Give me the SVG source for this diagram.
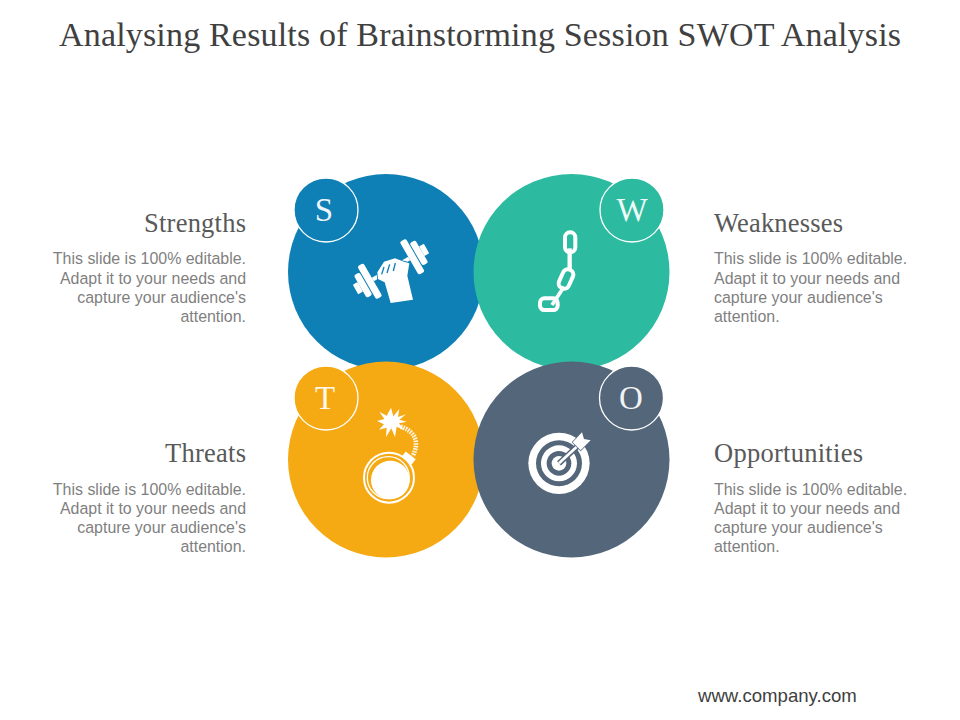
<svg xmlns="http://www.w3.org/2000/svg" width="960" height="720" viewBox="0 0 960 720">
<style>
.title{font-family:"Liberation Serif",serif;font-size:34px;fill:#404040}
.head{font-family:"Liberation Serif",serif;font-size:26.500px;fill:#595959}
.body{font-family:"Liberation Sans",Arial,sans-serif;font-size:15.950px;fill:#7f7f7f}
.r{text-anchor:end}
.letter{font-family:"Liberation Serif",serif;font-size:33px;fill:#fff;text-anchor:middle;opacity:.92}
.badge{stroke:#fff;stroke-width:1.3}
.url{font-family:"Liberation Sans",Arial,sans-serif;font-size:18.600px;fill:#404040}
</style>
<rect width="960" height="720" fill="#fff"/>
<text class="title" x="59" y="46" textLength="842" lengthAdjust="spacing">Analysing Results of Brainstorming Session SWOT Analysis</text>
<g id="strengths">
<circle cx="386" cy="272" r="98" fill="#0f80b6"/>
<circle class="badge" cx="326" cy="210" r="32" fill="#0f80b6"/>
<text class="letter" x="324" y="221">S</text>
<g transform="translate(391,269) rotate(-30)" fill="#fff">
<rect x="-21" y="-2" width="42" height="4"/>
<rect x="-28" y="-19" width="7" height="38" rx="2"/><rect x="21" y="-19" width="7" height="38" rx="2"/>
<rect x="-35.500" y="-13" width="6.500" height="26" rx="2"/><rect x="29" y="-13" width="6.500" height="26" rx="2"/>
<rect x="-41" y="-5.500" width="5.500" height="11" rx="1"/><rect x="35.500" y="-5.500" width="5.500" height="11" rx="1"/>
</g>
<g transform="translate(340,225) scale(.3333)">
<path d="M112 142L132 110L165 100L192 110L208 115L202 152L219 224L152 234L134 172L114 162Z" fill="#fff" stroke="#0f80b6" stroke-width="5" paint-order="stroke"/>
<path d="M132 126L125 148M149 118L141 144M166 114L160 138" stroke="#0f80b6" stroke-width="4" fill="none"/>
</g>
</g>
<g id="weaknesses">
<circle cx="571.500" cy="272" r="98" fill="#2cbba0"/>
<circle class="badge" cx="632" cy="210" r="32" fill="#2cbba0"/>
<text class="letter" x="632" y="221">W</text>
<g transform="translate(470,165) scale(.3333)" fill="none" stroke="#fff" stroke-width="12">
<rect x="285" y="202" width="31" height="60" rx="15"/>
<path d="M299 250V318" stroke-width="13"/>
<rect x="272" y="312" width="32" height="60" rx="15" transform="rotate(24 288 342)"/>
<path d="M282 365L246 420" stroke-width="11"/>
<rect x="210" y="400" width="53" height="35" rx="13"/>
</g>
</g>
<g id="threats">
<circle cx="386" cy="459.500" r="98" fill="#f5aa14"/>
<circle class="badge" cx="326" cy="398" r="32" fill="#f5aa14"/>
<text class="letter" x="325" y="409">T</text>
<g transform="translate(280,355) scale(.3333)" fill="#fff">
<circle cx="327" cy="368" r="75" fill="none" stroke="#fff" stroke-width="6"/>
<circle cx="325" cy="368" r="63" fill="none" stroke="#fff" stroke-width="4"/>
<circle cx="331" cy="375" r="58"/>
<rect x="367" y="299" width="38" height="20" transform="rotate(38 386 309)"/>
<path d="M362 215C405 228 420 262 398 303" fill="none" stroke="#fff" stroke-width="14" stroke-dasharray="5 3" opacity=".85"/>
<path d="M333 158L340 184L358 162L354 186L378 178L358 194L380 200L357 205L372 225L350 215L345 246L334 220L318 246L320 218L297 224L312 208L291 198L313 192L298 170L320 182Z"/>
</g>
</g>
<g id="opportunities">
<circle cx="571.500" cy="459.500" r="98" fill="#54667a"/>
<circle class="badge" cx="631.500" cy="398" r="32" fill="#54667a"/>
<text class="letter" x="631" y="409">O</text>
<g transform="translate(470,355) scale(.3333)">
<circle cx="267" cy="325" r="92" fill="#fff"/>
<circle cx="267" cy="325" r="69" fill="#54667a"/>
<circle cx="267" cy="325" r="54" fill="#fff"/>
<circle cx="267" cy="325" r="37" fill="#54667a"/>
<circle cx="267" cy="325" r="22" fill="#fff"/>
<path d="M267 325L335 262" stroke="#54667a" stroke-width="17"/>
<path d="M267 325L335 262" stroke="#fff" stroke-width="8"/>
<path d="M308 262L336 232L342 252L362 256L332 286Z" fill="#fff" stroke="#54667a" stroke-width="4" paint-order="stroke"/>
</g>
</g>
<g id="label-strengths">
<text class="head r" x="246" y="232" textLength="102" lengthAdjust="spacing">Strengths</text>
<text class="body r" x="246" y="264">This slide is 100% editable.</text>
<text class="body r" x="246" y="284">Adapt it to your needs and</text>
<text class="body r" x="246" y="303">capture your audience's</text>
<text class="body r" x="246" y="322">attention.</text>
</g>
<g id="label-weaknesses">
<text class="head" x="714" y="232" textLength="129" lengthAdjust="spacing">Weaknesses</text>
<text class="body" x="714" y="264">This slide is 100% editable.</text>
<text class="body" x="714" y="284">Adapt it to your needs and</text>
<text class="body" x="714" y="303">capture your audience's</text>
<text class="body" x="714" y="322">attention.</text>
</g>
<g id="label-threats">
<text class="head r" x="246" y="462" textLength="81" lengthAdjust="spacing">Threats</text>
<text class="body r" x="246" y="495">This slide is 100% editable.</text>
<text class="body r" x="246" y="514">Adapt it to your needs and</text>
<text class="body r" x="246" y="533">capture your audience's</text>
<text class="body r" x="246" y="552">attention.</text>
</g>
<g id="label-opportunities">
<text class="head" x="714" y="462" textLength="149" lengthAdjust="spacing">Opportunities</text>
<text class="body" x="714" y="495">This slide is 100% editable.</text>
<text class="body" x="714" y="514">Adapt it to your needs and</text>
<text class="body" x="714" y="533">capture your audience's</text>
<text class="body" x="714" y="552">attention.</text>
</g>
<text class="url" x="698" y="702">www.company.com</text>
</svg>
